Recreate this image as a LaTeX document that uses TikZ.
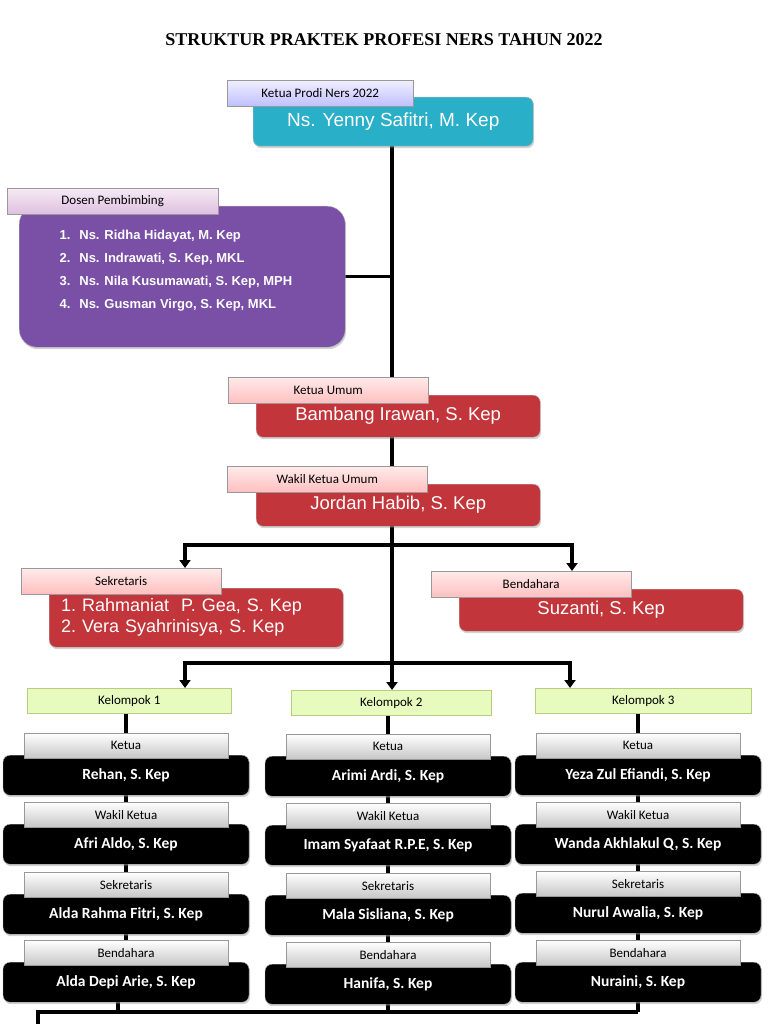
\documentclass[tikz,border=0pt]{standalone}
\usepackage{fontspec}
\setmainfont{Liberation Serif}
\newfontfamily\calfont{Carlito}
\newfontfamily\arifont{Liberation Sans}
\usetikzlibrary{arrows.meta,shadows,backgrounds}

\definecolor{tealbox}{HTML}{2AAFC8}
\definecolor{redbox}{HTML}{C2363B}
\definecolor{purplebox}{HTML}{7A4FA6}
\definecolor{greenlight}{HTML}{E8FBBE}

\tikzset{
  lbl/.style={draw=black!40,minimum height=26pt,inner sep=1pt,font=\calfont\fontsize{13}{15}\selectfont},
  bluelbl/.style={lbl,top color=white!80!blue!30,bottom color=blue!25,minimum width=186pt},
  lavlbl/.style={lbl,top color=violet!8,bottom color=violet!25,minimum width=211pt},
  pinklbl/.style={lbl,top color=red!8,bottom color=red!25,minimum width=200pt},
  greenlbl/.style={lbl,fill=greenlight,draw=lime!60!black!50,minimum width=204pt,minimum height=25pt},
  greylbl/.style={lbl,top color=white,bottom color=black!22,minimum width=204pt,minimum height=25pt},
  box/.style={rounded corners=7pt,draw=white!70!black,text=white,drop shadow={opacity=0.35,shadow xshift=1pt,shadow yshift=-2pt}},
  redbox/.style={box,fill=redbox,minimum width=284pt,minimum height=42pt,font=\arifont\fontsize{18.5}{21}\selectfont},
  blackbox/.style={box,fill=black,minimum width=246pt,minimum height=40pt,font=\calfont\bfseries\fontsize{15.5}{18}\selectfont},
  conn/.style={line width=3.2pt},
  arr/.style={conn,-{Triangle[width=11pt,length=8pt]}}
}

% label on top of a box: name, x, top of label, role, person
\newcommand{\rolebox}[5]{%
  \node[blackbox,anchor=north] (#1) at (#2,#3+22) {#5};
  \node[greylbl,anchor=north] (#1l) at (#2,#3) {#4};}

\begin{document}
\begin{tikzpicture}[x=1pt,y=-1pt]
\useasboundingbox (0,0) rectangle (768,1024);

\node[font=\bfseries\fontsize{18}{21}\selectfont] (title) at (384,40) {STRUKTUR PRAKTEK PROFESI NERS TAHUN 2022};

% top
\node[box,fill=tealbox,minimum width=280pt,minimum height=49pt,anchor=north west,font=\arifont\fontsize{19}{22}\selectfont] (yenny) at (253,97) {Ns. Yenny Safitri, M. Kep};
\node[bluelbl,anchor=north west] (yennyl) at (227,80) {Ketua Prodi Ners 2022};

\node[box,fill=purplebox,rounded corners=18pt,minimum width=326pt,minimum height=141pt,anchor=north west] (dosen) at (19,206) {};
\node[anchor=north west,text=white,font=\arifont\bfseries\fontsize{13}{22.8}\selectfont,align=left] (dosent) at (56,227)
  {1.\hspace{9pt}Ns. Ridha Hidayat, M. Kep\\2.\hspace{9pt}Ns. Indrawati, S. Kep, MKL\\3.\hspace{9pt}Ns. Nila Kusumawati, S. Kep, MPH\\4.\hspace{9pt}Ns. Gusman Virgo, S. Kep, MKL};
\node[lavlbl,anchor=north west] (dosenl) at (7,188) {Dosen Pembimbing};

\node[redbox,anchor=north west] (ku) at (256,395) {Bambang Irawan, S. Kep};
\node[pinklbl,anchor=north west] (kul) at (228,377) {Ketua Umum};
\node[redbox,anchor=north west] (wk) at (256,484) {Jordan Habib, S. Kep};
\node[pinklbl,anchor=north west] (wkl) at (227,466) {Wakil Ketua Umum};

\node[redbox,minimum width=294pt,minimum height=59pt,anchor=north west,align=left,text width=270pt,font=\arifont\fontsize{18}{21}\selectfont] (sek) at (49,588) {1.\ Rahmaniat\ \ P. Gea, S. Kep\\2.\ Vera Syahrinisya, S. Kep};
\node[pinklbl,anchor=north west] (sekl) at (21,568) {Sekretaris};
\node[redbox,anchor=north west] (ben) at (459,589) {Suzanti, S. Kep};
\node[pinklbl,anchor=north west] (benl) at (431,571) {Bendahara};

% groups
\node[greenlbl,anchor=north west] (k1) at (27,688) {Kelompok 1};
\node[greenlbl,anchor=north west,minimum width=200pt] (k2) at (291,690) {Kelompok 2};
\node[greenlbl,anchor=north west,minimum width=216pt] (k3) at (535,688) {Kelompok 3};

\rolebox{a1}{126}{733}{Ketua}{Rehan, S. Kep}
\rolebox{a2}{126}{802}{Wakil Ketua}{Afri Aldo, S. Kep}
\rolebox{a3}{126}{872}{Sekretaris}{Alda Rahma Fitri, S. Kep}
\rolebox{a4}{126}{940}{Bendahara}{Alda Depi Arie, S. Kep}
\rolebox{b1}{388}{734}{Ketua}{Arimi Ardi, S. Kep}
\rolebox{b2}{388}{803}{Wakil Ketua}{Imam Syafaat R.P.E, S. Kep}
\rolebox{b3}{388}{873}{Sekretaris}{Mala Sisliana, S. Kep}
\rolebox{b4}{388}{942}{Bendahara}{Hanifa, S. Kep}
\rolebox{c1}{638}{733}{Ketua}{Yeza Zul Efiandi, S. Kep}
\rolebox{c2}{638}{802}{Wakil Ketua}{Wanda Akhlakul Q, S. Kep}
\rolebox{c3}{638}{871}{Sekretaris}{Nurul Awalia, S. Kep}
\rolebox{c4}{638}{940}{Bendahara}{Nuraini, S. Kep}

\coordinate (split1) at (392,545);
\coordinate (sekin) at (185,568);
\coordinate (benin) at (572,571);
\coordinate (split2) at (392,663);
\coordinate (k1in) at (185,688);
\coordinate (k3in) at (570,688);
\coordinate (foot) at (38,1012);
\coordinate (exit) at (38,1024);
\coordinate (a4out) at (118,1012);

\begin{scope}[on background layer]
\draw[conn] (yenny.south -| split1) -- (kul.north -| split1);
\draw[conn] (dosen.east) -- (dosen.east -| split1);
\draw[conn] (ku.south -| split1) -- (wkl.north -| split1);
\draw[conn] (wk.south -| split1) -- (split1);
\draw[arr] (split1) -| (sekin);
\draw[arr] (split1) -| (benin);
\draw[conn] (split1) -- (split2);
\draw[arr] (split2) -| (k1in);
\draw[arr] (split2) -| (k3in);
\draw[arr] (split2) -- (k2.north -| split2);
\foreach \c/\k in {a/k1,b/k2,c/k3}{
  \draw[conn] (\k.south -| \c1l.north) -- (\c1l.north);
  \draw[conn] (\c1) -- (\c2l);
  \draw[conn] (\c2) -- (\c3l);
  \draw[conn] (\c3) -- (\c4l);
}
\draw[conn] (a4.south -| a4out) -- (a4out);
\draw[conn] (b4.south) -- (b4.south |- foot);
\draw[conn] (c4.south) -- (c4.south |- foot);
\draw[conn] (exit) -- (foot) -- (c4.south |- foot);
\end{scope}
\end{tikzpicture}
\end{document}
